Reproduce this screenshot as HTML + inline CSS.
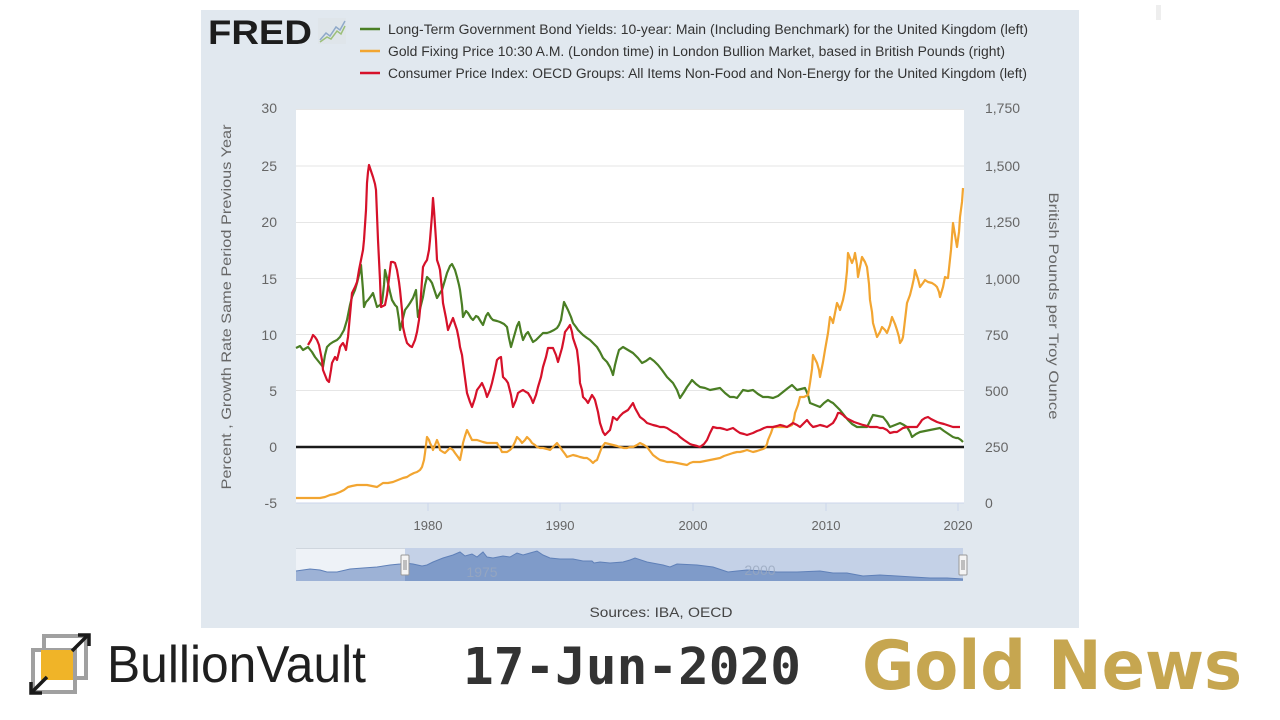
<!DOCTYPE html>
<html>
<head>
<meta charset="utf-8">
<style>
  html,body{margin:0;padding:0;background:#ffffff;}
  svg{display:block;}
  text{font-family:"Liberation Sans", Arial, sans-serif;}
</style>
</head>
<body>
<svg width="1280" height="720" viewBox="0 0 1280 720" xmlns="http://www.w3.org/2000/svg">
  <rect x="0" y="0" width="1280" height="720" fill="#ffffff"/>
  <rect x="1156" y="5" width="5" height="15" fill="#eeeeee"/>

  <!-- panel -->
  <rect x="201" y="10" width="878" height="618" fill="#e1e8ef"/>

  <!-- FRED logo -->
  <text x="208" y="44" font-size="34" font-weight="bold" fill="#1d1d1d" textLength="104" lengthAdjust="spacingAndGlyphs">FRED</text>
  <rect x="318" y="18" width="28" height="26" fill="#dfe5ea"/>
  <polyline points="320,40 326,33 330,36 336,27 340,30 345,21" fill="none" stroke="#8fa9c9" stroke-width="1.5"/>
  <polyline points="320,42 327,37 331,39 337,31 341,34 345,26" fill="none" stroke="#9cbf7a" stroke-width="1.5"/>

  <!-- legend -->
  <line x1="360" y1="29" x2="380" y2="29" stroke="#4a7e24" stroke-width="2.5"/>
  <line x1="360" y1="51" x2="380" y2="51" stroke="#f2a531" stroke-width="2.5"/>
  <line x1="360" y1="73" x2="380" y2="73" stroke="#d6112a" stroke-width="2.5"/>
  <text x="388" y="34" font-size="13.5" fill="#333" textLength="640" lengthAdjust="spacingAndGlyphs">Long-Term Government Bond Yields: 10-year: Main (Including Benchmark) for the United Kingdom (left)</text>
  <text x="388" y="56" font-size="13.5" fill="#333" textLength="617" lengthAdjust="spacingAndGlyphs">Gold Fixing Price 10:30 A.M. (London time) in London Bullion Market, based in British Pounds (right)</text>
  <text x="388" y="78" font-size="13.5" fill="#333" textLength="639" lengthAdjust="spacingAndGlyphs">Consumer Price Index: OECD Groups: All Items Non-Food and Non-Energy for the United Kingdom (left)</text>

  <!-- plot area -->
  <rect x="296" y="109" width="668" height="394" fill="#ffffff"/>
  <g stroke="#e6e6e6" stroke-width="1">
    <line x1="296" y1="109.5" x2="964" y2="109.5"/>
    <line x1="296" y1="166" x2="964" y2="166"/>
    <line x1="296" y1="222.5" x2="964" y2="222.5"/>
    <line x1="296" y1="278.5" x2="964" y2="278.5"/>
    <line x1="296" y1="334.5" x2="964" y2="334.5"/>
    <line x1="296" y1="390.5" x2="964" y2="390.5"/>
  </g>
  <line x1="296" y1="503" x2="964" y2="503" stroke="#ccd6eb" stroke-width="1"/>
  <g stroke="#ccd6eb" stroke-width="1">
    <line x1="428" y1="503" x2="428" y2="511"/>
    <line x1="560" y1="503" x2="560" y2="511"/>
    <line x1="693" y1="503" x2="693" y2="511"/>
    <line x1="826" y1="503" x2="826" y2="511"/>
    <line x1="958" y1="503" x2="958" y2="511"/>
  </g>

  <!-- left y labels -->
  <g font-size="14" fill="#666" text-anchor="end">
    <text x="277" y="113">30</text>
    <text x="277" y="171">25</text>
    <text x="277" y="227">20</text>
    <text x="277" y="284">15</text>
    <text x="277" y="340">10</text>
    <text x="277" y="396">5</text>
    <text x="277" y="452">0</text>
    <text x="277" y="508">-5</text>
  </g>
  <!-- right y labels -->
  <g font-size="14" fill="#666" text-anchor="start">
    <text x="985" y="113">1,750</text>
    <text x="985" y="171">1,500</text>
    <text x="985" y="227">1,250</text>
    <text x="985" y="284">1,000</text>
    <text x="985" y="340">750</text>
    <text x="985" y="396">500</text>
    <text x="985" y="452">250</text>
    <text x="985" y="508">0</text>
  </g>
  <!-- axis titles -->
  <text transform="translate(231,307) rotate(-90)" text-anchor="middle" font-size="14" fill="#666" textLength="365" lengthAdjust="spacingAndGlyphs">Percent , Growth Rate Same Period Previous Year</text>
  <text transform="translate(1049,306) rotate(90)" text-anchor="middle" font-size="14" fill="#666" textLength="227" lengthAdjust="spacingAndGlyphs">British Pounds per Troy Ounce</text>

  <!-- x labels -->
  <g font-size="13" fill="#666" text-anchor="middle">
    <text x="428" y="530">1980</text>
    <text x="560" y="530">1990</text>
    <text x="693" y="530">2000</text>
    <text x="826" y="530">2010</text>
    <text x="958" y="530">2020</text>
  </g>

  <!-- zero line -->
  <line x1="296" y1="447" x2="964" y2="447" stroke="#1a1a1a" stroke-width="2.5"/>

  <!-- green: bond yields -->
  <polyline fill="none" stroke="#4a7e24" stroke-width="2.2" stroke-linejoin="round" points="296,348 300,346 303,350 308,347 312,352 315,357 319,362 323,367 325,355 327,347 330,344 333,342 337,340 340,337 344,330 347,320 350,305 352,297 355,290 357,283 359,275 361,265 363,290 364,307 366,302 368,300 371,296 373,293 375,300 377,307 380,305 382,303 384,285 385,270 387,278 388,283 390,292 392,300 395,305 397,307 399,320 400,330 403,318 405,310 408,306 410,303 413,298 416,290 417,305 418,317 421,305 423,297 425,285 427,277 430,280 432,283 435,292 437,298 440,293 442,290 445,280 447,273 450,266 452,264 455,270 457,277 459,285 460,290 462,305 463,317 466,311 468,313 471,318 473,320 476,316 478,317 481,322 483,325 486,316 488,313 491,318 493,320 497,321 500,322 504,324 507,327 509,338 511,347 513,340 515,333 517,326 519,322 521,332 523,340 526,334 528,332 531,338 533,342 536,340 538,338 541,335 543,333 547,333 550,332 554,330 557,328 559,325 561,320 563,308 564,302 566,306 568,310 571,317 573,323 576,327 578,330 581,333 583,335 587,338 590,340 594,344 597,347 600,352 603,358 607,362 610,367 612,372 613,375 615,365 617,357 619,350 623,347 628,350 633,353 638,358 642,363 646,361 650,358 654,361 658,365 662,370 667,377 670,380 673,383 677,390 680,398 684,392 687,387 690,383 692,380 696,384 700,387 705,388 710,390 715,389 720,388 725,393 730,397 734,397 737,398 740,394 743,390 748,391 753,390 758,394 763,397 768,397 773,398 778,396 783,392 788,388 792,385 795,388 797,390 801,389 805,388 808,395 810,403 815,405 820,407 824,403 828,400 831,402 833,403 837,407 840,410 844,415 848,420 852,424 857,427 862,427 867,427 870,421 873,415 878,416 883,417 887,422 890,427 895,425 900,423 904,425 907,427 910,432 912,437 916,434 920,432 925,431 930,430 935,429 940,428 944,431 947,433 950,435 953,437 956,438 958,438 961,440 963,442"/>

  <!-- gold -->
  <polyline fill="none" stroke="#f2a531" stroke-width="2.2" stroke-linejoin="round" points="296,498 308,498 320,498 325,497 330,495 335,494 340,492 344,490 348,487 352,486 357,485 362,485 367,485 372,486 377,487 380,485 383,483 388,483 393,482 398,480 403,478 407,477 410,475 414,473 417,472 420,470 422,467 424,460 425,453 426,445 427,437 429,440 430,443 432,447 433,450 435,445 437,440 439,445 440,450 443,452 445,453 448,450 450,448 453,450 455,453 458,457 460,460 462,450 463,443 465,436 467,430 470,436 472,440 475,440 477,440 480,441 483,442 487,443 490,443 494,443 497,443 500,448 502,452 505,452 507,452 510,450 512,448 515,442 517,437 520,440 522,443 525,440 527,437 530,440 532,443 535,445 537,447 540,448 543,448 547,449 550,450 553,447 557,443 560,447 562,450 565,454 567,457 570,456 573,455 577,456 580,457 584,458 587,458 590,460 593,463 595,461 597,460 600,452 602,447 605,443 609,444 613,445 617,446 620,447 624,448 627,448 630,447 633,447 637,445 640,443 644,445 647,447 650,451 653,455 657,458 660,460 664,461 667,462 672,462 677,463 682,464 687,465 690,463 693,462 697,462 700,462 705,461 710,460 715,459 720,458 724,456 727,455 730,454 733,453 737,452 740,452 744,451 747,450 750,451 753,452 757,451 760,450 763,449 765,448 767,444 768,440 771,433 773,427 777,427 780,427 784,427 787,427 790,426 792,425 794,419 795,413 798,405 800,397 802,397 804,397 806,396 808,395 809,389 810,383 812,369 813,355 815,359 817,363 819,370 820,377 823,362 825,350 828,333 830,317 832,320 833,323 835,313 837,303 839,307 840,310 843,300 845,290 847,271 848,253 850,258 852,263 854,258 855,253 857,265 858,277 860,267 862,257 865,262 867,267 869,284 870,300 872,312 873,323 875,330 877,337 880,332 882,327 885,330 887,333 890,325 892,317 895,324 897,330 899,337 900,343 902,340 903,337 905,320 907,303 910,295 912,287 914,278 915,270 918,279 920,287 923,283 925,280 928,282 932,283 935,285 937,287 939,292 940,297 943,287 945,277 947,278 948,278 951,250 953,223 955,235 957,247 959,232 960,217 962,202 963,188"/>

  <!-- red: CPI -->
  <polyline fill="none" stroke="#d6112a" stroke-width="2.2" stroke-linejoin="round" points="308,345 311,340 313,335 315,337 317,340 319,345 320,350 322,360 323,370 325,375 327,380 329,382 331,370 332,363 334,359 335,357 337,360 339,352 340,347 342,344 343,343 345,347 346,350 347,343 348,337 350,315 352,293 355,287 357,282 359,270 361,260 363,250 364,240 366,210 367,183 368,172 369,165 371,171 373,177 375,184 376,190 377,215 378,240 380,280 381,307 383,306 385,305 387,295 388,287 390,270 391,262 393,262 395,263 397,270 399,282 400,290 402,310 403,327 405,336 407,343 410,346 412,347 415,340 417,332 419,320 420,310 422,280 423,267 425,263 427,260 429,250 430,240 432,215 433,198 434,210 436,240 437,260 439,266 440,270 442,290 443,303 446,318 448,330 450,325 453,318 455,324 457,330 459,340 460,347 462,355 463,363 465,378 467,393 470,402 472,407 475,398 477,390 480,386 482,383 485,390 487,397 490,390 492,383 495,370 497,360 499,358 501,357 502,367 503,377 506,380 508,383 511,395 513,407 516,400 518,393 521,391 523,390 526,392 528,393 531,398 533,403 536,395 538,387 541,377 543,367 546,357 548,348 551,348 553,348 556,355 558,362 560,355 562,348 564,338 565,332 568,328 570,325 572,332 573,338 575,344 577,350 579,367 580,383 582,390 583,397 586,400 588,403 590,399 592,395 594,398 595,400 598,412 600,423 603,432 605,435 608,432 610,430 612,422 613,417 617,420 620,416 623,413 628,410 633,403 635,408 640,417 644,420 647,423 650,424 653,425 657,426 660,427 664,427 667,428 670,430 673,432 677,434 680,437 684,440 687,442 690,444 693,445 697,446 700,447 704,444 707,440 710,433 713,427 717,428 720,428 724,429 727,430 730,429 733,428 737,431 740,433 744,434 747,435 750,434 753,433 757,431 760,430 764,428 767,427 770,427 773,427 777,426 780,425 784,426 787,427 790,425 793,423 797,425 800,427 804,423 807,420 810,424 813,427 817,426 820,425 824,426 827,427 830,425 833,423 836,418 838,413 840,413 843,415 845,417 848,419 850,420 854,422 857,423 860,424 863,425 867,426 870,427 874,427 877,427 880,428 883,428 887,430 890,433 894,432 897,432 900,430 903,428 907,427 910,427 914,427 917,427 920,423 922,420 925,418 928,417 931,419 933,420 937,422 940,423 944,424 947,425 950,426 953,427 957,427 960,427"/>

  <!-- navigator -->
  <rect x="296" y="548" width="109" height="33" fill="#eef2f7"/>
  <rect x="405" y="548" width="558" height="33" fill="#c4d1e7"/>
  <line x1="296" y1="548.5" x2="405" y2="548.5" stroke="#cfd6de" stroke-width="1"/>
  <polygon fill="#9db2d6" points="296,581 296,571 310,569 320,570 327,572 337,572 350,569 363,568 377,567 390,565 400,564 405,563 405,581"/>
  <polygon fill="#7f9bc9" points="405,581 405,563 413,564 422,566 427,565 433,562 443,558 453,555 460,552 465,556 472,554 477,557 483,552 487,557 493,558 503,556 510,557 517,553 523,555 530,553 537,551 543,555 550,558 560,559 573,559 583,561 592,561 594,563 600,562 610,563 623,562 630,560 635,558 647,562 663,565 670,567 677,564 697,565 713,567 728,572 737,571 747,570 763,571 777,572 797,572 820,571 833,573 847,573 863,576 880,575 897,576 913,577 930,578 947,578 963,579 963,581"/>
  <polyline fill="none" stroke="#5f80b8" stroke-width="1" points="296,571 310,569 320,570 327,572 337,572 350,569 363,568 377,567 390,565 400,564 405,563 413,564 422,566 427,565 433,562 443,558 453,555 460,552 465,556 472,554 477,557 483,552 487,557 493,558 503,556 510,557 517,553 523,555 530,553 537,551 543,555 550,558 560,559 573,559 583,561 592,561 594,563 600,562 610,563 623,562 630,560 635,558 647,562 663,565 670,567 677,564 697,565 713,567 728,572 737,571 747,570 763,571 777,572 797,572 820,571 833,573 847,573 863,576 880,575 897,576 913,577 930,578 947,578 963,579"/>
  <text x="482" y="577" font-size="14" fill="#9aa8bf" text-anchor="middle" opacity="0.8">1975</text>
  <text x="760" y="575" font-size="14" fill="#9aa8bf" text-anchor="middle" opacity="0.8">2000</text>
  <!-- handles -->
  <g>
    <rect x="401" y="555" width="8" height="20" rx="1" fill="#f4f4f4" stroke="#999" stroke-width="1"/>
    <line x1="404" y1="560" x2="404" y2="570" stroke="#888" stroke-width="1"/>
    <line x1="406" y1="560" x2="406" y2="570" stroke="#888" stroke-width="1"/>
    <rect x="959" y="555" width="8" height="20" rx="1" fill="#f4f4f4" stroke="#999" stroke-width="1"/>
    <line x1="962" y1="560" x2="962" y2="570" stroke="#888" stroke-width="1"/>
    <line x1="964" y1="560" x2="964" y2="570" stroke="#888" stroke-width="1"/>
  </g>

  <!-- sources -->
  <text x="661" y="617" font-size="14" fill="#444" text-anchor="middle" textLength="143" lengthAdjust="spacingAndGlyphs">Sources: IBA, OECD</text>

  <!-- footer: BullionVault logo -->
  <g>
    <rect x="44" y="636" width="42" height="42" fill="none" stroke="#a0a0a0" stroke-width="4"/>
    <rect x="33" y="650" width="42" height="42" fill="none" stroke="#a0a0a0" stroke-width="4"/>
    <rect x="41" y="650" width="32" height="30" fill="#f0b428"/>
    <polyline points="72,651 88,635" stroke="#1a1a1a" stroke-width="3.5" fill="none"/>
    <polyline points="78,635 89,635 89,646" stroke="#1a1a1a" stroke-width="3.5" fill="none"/>
    <polyline points="47,677 31,693" stroke="#1a1a1a" stroke-width="3.5" fill="none"/>
    <polyline points="31,682 31,693 42,693" stroke="#1a1a1a" stroke-width="3.5" fill="none"/>
  </g>
  <text x="107" y="682" font-size="52" fill="#1f1f1f" textLength="259" lengthAdjust="spacingAndGlyphs">BullionVault</text>
  <text x="463" y="684" font-size="51" font-weight="bold" fill="#333333" textLength="338" lengthAdjust="spacingAndGlyphs" style="font-family:'DejaVu Sans Mono','Liberation Mono',monospace">17-Jun-2020</text>
  <text x="862" y="689" font-size="68" font-weight="bold" fill="#c6a650" textLength="380" lengthAdjust="spacingAndGlyphs" style="font-family:'DejaVu Sans','Liberation Sans',sans-serif">Gold News</text>
</svg>
</body>
</html>
